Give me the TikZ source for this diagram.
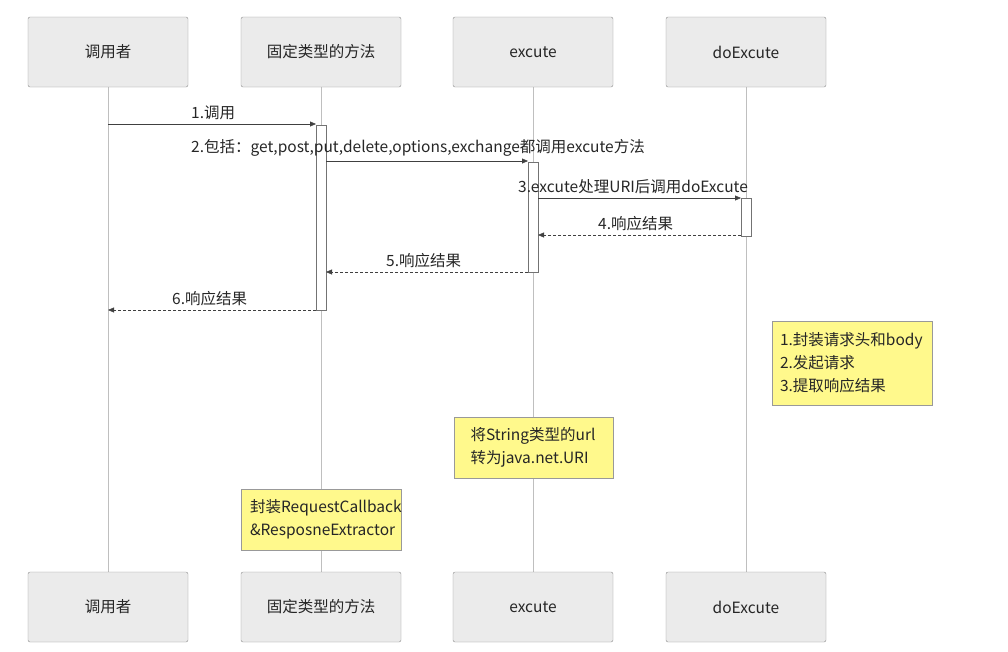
\documentclass[tikz,border=0pt]{standalone}
\usepackage{fontspec}
\setmainfont{Noto Sans CJK SC}
\usetikzlibrary{arrows.meta}
\begin{document}
\begin{tikzpicture}[x=1pt,y=-1pt,font=\fontsize{15.5}{23}\selectfont,
  part/.style={draw=black!45,fill=black!8,rounded corners=2pt,minimum width=160pt,minimum height=70pt,text=black!85},
  life/.style={draw=black!25},
  act/.style={draw=black!55,fill=white,minimum width=10pt,inner sep=0pt},
  msg/.style={draw=black!75,-{Triangle[length=6pt,width=5pt]}},
  ret/.style={draw=black!75,densely dashed,-{Triangle[length=6pt,width=5pt]}},
  lbl/.style={text=black!85,inner sep=1pt},
  note/.style={draw=black!40,fill=yellow!45,align=left,text=black!85,inner sep=0pt}]
\useasboundingbox (0,0) rectangle (1008,651);
\foreach \n/\x/\t in {a/108/调用者,b/321/固定类型的方法,c/533/excute,d/746/doExcute}{
  \draw[life] (\x,87) -- (\x,572);
  \node[part] (\n1) at (\x,52) {\t};
  \node[part] (\n2) at (\x,607) {\t};
}
\node[act,minimum height=185pt] (ab) at (321,217.5) {};
\node[act,minimum height=110pt] (cb) at (533,217) {};
\node[act,minimum height=38pt] (db) at (746,217) {};
\coordinate (p1) at (108,124); \coordinate (p1e) at (316,124);
\draw[msg] (p1) -- (p1e);
\node[lbl,anchor=south west] at (190,121) {1.调用};
\coordinate (p2) at (326,161); \coordinate (p2e) at (528,161);
\draw[msg] (p2) -- (p2e);
\node[lbl,anchor=south west] at (190,158) {2.包括：get,post,put,delete,options,exchange都调用excute方法};
\coordinate (p3) at (538,198); \coordinate (p3e) at (741,198);
\draw[msg] (p3) -- (p3e);
\node[lbl,anchor=south west] at (517,195) {3.excute处理URI后调用doExcute};
\coordinate (p4) at (741,235); \coordinate (p4e) at (538,235);
\draw[ret] (p4) -- (p4e);
\node[lbl,anchor=south west] at (597,232) {4.响应结果};
\coordinate (p5) at (528,272); \coordinate (p5e) at (326,272);
\draw[ret] (p5) -- (p5e);
\node[lbl,anchor=south west] at (385,269) {5.响应结果};
\coordinate (p6) at (316,310); \coordinate (p6e) at (108,310);
\draw[ret] (p6) -- (p6e);
\node[lbl,anchor=south west] at (171,307) {6.响应结果};
\node[note,minimum width=160pt,minimum height=84pt,text width=144pt] (n1) at (852,363) {1.封装请求头和body\\2.发起请求\\3.提取响应结果};
\node[note,minimum width=159pt,minimum height=61pt,text width=126pt] (n2) at (533.5,447.5) {将String类型的url\\转为java.net.URI};
\node[note,minimum width=160pt,minimum height=61pt,text width=142pt] (n3) at (321,519.5) {封装RequestCallback\\\&ResposneExtractor};
\end{tikzpicture}
\end{document}
